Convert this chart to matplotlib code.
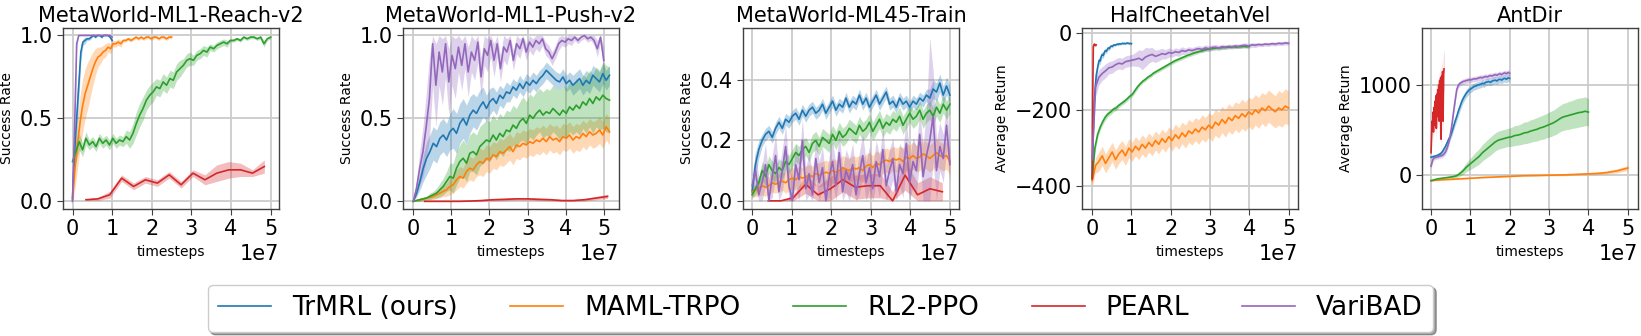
import numpy as np
import matplotlib
matplotlib.use("Agg")
import matplotlib.pyplot as plt

# ---------------------------------------------------------------- data
# x spans are (first, last) logged step in units of 1e7 timesteps; the
# curves are logged at even intervals inside that span.
METHODS = ["TrMRL (ours)", "MAML-TRPO", "RL2-PPO", "PEARL", "VariBAD"]
COLORS = ["#1f77b4", "#ff7f0e", "#2ca02c", "#d62728", "#9467bd"]

TITLES = ["MetaWorld-ML1-Reach-v2", "MetaWorld-ML1-Push-v2", "MetaWorld-ML45-Train",
          "HalfCheetahVel", "AntDir"]
YLABELS = ["Success Rate", "Success Rate", "Success Rate", "Average Return", "Average Return"]

# --- MetaWorld-ML1-Reach-v2
REACH_TRMRL_X = (0.0, 1.0)
REACH_TRMRL = [0.02, 0.3, 0.5, 0.7, 0.9, 0.96, 0.97, 0.98, 0.98, 0.99, 1.0, 0.99, 1.0, 1.0,
               0.99, 1.0, 1.0, 1.0, 0.99, 0.97]
REACH_TRMRL_SD = [0.01, 0.1, 0.12, 0.1, 0.05, 0.02, 0.02, 0.01, 0.01, 0.01, 0.0, 0.01, 0.0, 0.0,
                  0.01, 0.0, 0.0, 0.0, 0.01, 0.01]
REACH_MAML_X = (0.0, 2.5)
REACH_MAML = [0.01, 0.2, 0.35, 0.48, 0.58, 0.65, 0.7, 0.75, 0.8, 0.84, 0.87, 0.88, 0.9, 0.91,
              0.93, 0.92, 0.95, 0.95, 0.96, 0.95, 0.97, 0.97, 0.98, 0.97, 0.98, 0.99, 0.98, 0.99,
              0.98, 0.99, 0.99, 0.98, 0.99, 0.99, 0.98, 0.99, 0.99, 0.98, 0.99, 0.99]
REACH_MAML_SD = [0.02, 0.12, 0.15, 0.16, 0.16, 0.15, 0.14, 0.12, 0.1, 0.08, 0.06, 0.05, 0.04,
                 0.04, 0.03, 0.03, 0.02, 0.02, 0.02, 0.02, 0.01, 0.01, 0.01, 0.01, 0.01, 0.01,
                 0.01, 0.01, 0.01, 0.01, 0.01, 0.01, 0.01, 0.01, 0.01, 0.01, 0.01, 0.01, 0.01, 0.01]
REACH_RL2_X = (0.0, 5.0)
REACH_RL2 = [0.24, 0.30, 0.36, 0.31, 0.38, 0.34, 0.36, 0.33, 0.38, 0.35, 0.37, 0.34, 0.38, 0.35,
             0.37, 0.36, 0.39, 0.37, 0.41, 0.47, 0.52, 0.56, 0.61, 0.64, 0.66, 0.69, 0.68, 0.72,
             0.70, 0.74, 0.73, 0.78, 0.80, 0.82, 0.85, 0.86, 0.85, 0.88, 0.89, 0.91, 0.90, 0.93,
             0.92, 0.94, 0.95, 0.96, 0.95, 0.97, 0.97, 0.98, 0.97, 0.99, 0.98, 0.99, 0.99, 0.98,
             0.99, 0.95, 0.98, 0.99]
REACH_RL2_SD = [0.05, 0.06, 0.05, 0.04, 0.04, 0.03, 0.03, 0.03, 0.03, 0.03, 0.03, 0.03, 0.03,
                0.03, 0.03, 0.03, 0.04, 0.05, 0.06, 0.07, 0.07, 0.07, 0.06, 0.06, 0.06, 0.05,
                0.05, 0.05, 0.05, 0.05, 0.05, 0.05, 0.05, 0.04, 0.04, 0.04, 0.03, 0.03, 0.03,
                0.03, 0.03, 0.02, 0.02, 0.02, 0.02, 0.02, 0.02, 0.01, 0.01, 0.01, 0.01, 0.01,
                0.01, 0.01, 0.01, 0.01, 0.01, 0.02, 0.01, 0.01]
REACH_PEARL_X = (0.34, 4.84)
REACH_PEARL = [0.01, 0.015, 0.04, 0.14, 0.09, 0.13, 0.11, 0.16, 0.10, 0.17, 0.13, 0.17, 0.19,
               0.19, 0.17, 0.21]
REACH_PEARL_SD = [0.005, 0.01, 0.02, 0.02, 0.02, 0.02, 0.02, 0.02, 0.02, 0.02, 0.03, 0.05, 0.05,
                  0.04, 0.02, 0.04]
REACH_VARIBAD_X = (0.0, 1.0)
REACH_VARIBAD = [0.0, 0.45, 0.95, 1.0, 1.0, 1.0, 1.0, 1.0, 1.0, 1.0, 1.0, 1.0, 1.0, 1.0, 1.0,
                 1.0, 1.0, 1.0, 1.0, 0.99]
REACH_VARIBAD_SD = [0.0, 0.1, 0.03, 0.0, 0.0, 0.0, 0.0, 0.0, 0.0, 0.0, 0.0, 0.0, 0.0, 0.0, 0.0,
                    0.0, 0.0, 0.0, 0.0, 0.0]

# --- MetaWorld-ML1-Push-v2
PUSH_TRMRL_X = (0.0, 5.15)
PUSH_TRMRL = [0.0, 0.05, 0.12, 0.2, 0.26, 0.3, 0.35, 0.33, 0.38, 0.4, 0.37, 0.42, 0.44, 0.41,
              0.47, 0.5, 0.46, 0.52, 0.55, 0.53, 0.57, 0.6, 0.56, 0.6, 0.62, 0.59, 0.64, 0.62,
              0.66, 0.65, 0.69, 0.67, 0.71, 0.68, 0.72, 0.7, 0.73, 0.71, 0.74, 0.76, 0.79, 0.77,
              0.75, 0.73, 0.72, 0.75, 0.71, 0.73, 0.7, 0.72, 0.74, 0.7, 0.73, 0.71, 0.76, 0.74,
              0.72, 0.77, 0.73, 0.76]
PUSH_TRMRL_SD = [0.0, 0.02, 0.05, 0.08, 0.1, 0.1, 0.1, 0.1, 0.1, 0.1, 0.1, 0.11, 0.12, 0.12,
                 0.12, 0.12, 0.12, 0.11, 0.1, 0.1, 0.1, 0.09, 0.08, 0.08, 0.07, 0.07, 0.06, 0.06,
                 0.06, 0.05, 0.05, 0.05, 0.05, 0.05, 0.05, 0.05, 0.05, 0.05, 0.05, 0.05, 0.05,
                 0.05, 0.05, 0.05, 0.05, 0.05, 0.05, 0.05, 0.06, 0.06, 0.06, 0.06, 0.06, 0.06,
                 0.06, 0.06, 0.06, 0.06, 0.06, 0.06]
PUSH_MAML_X = (0.0, 5.15)
PUSH_MAML = [0.0, 0.005, 0.01, 0.015, 0.02, 0.025, 0.03, 0.04, 0.05, 0.06, 0.07, 0.09, 0.1, 0.13,
             0.15, 0.14, 0.18, 0.2, 0.19, 0.22, 0.24, 0.23, 0.26, 0.25, 0.28, 0.27, 0.3, 0.29,
             0.31, 0.33, 0.3, 0.34, 0.33, 0.35, 0.34, 0.36, 0.35, 0.37, 0.36, 0.38, 0.36, 0.39,
             0.37, 0.38, 0.36, 0.39, 0.38, 0.4, 0.37, 0.39, 0.38, 0.41, 0.39, 0.42, 0.4, 0.41,
             0.43, 0.4, 0.45, 0.42]
PUSH_MAML_SD = [0.0, 0.005, 0.01, 0.01, 0.01, 0.015, 0.02, 0.02, 0.03, 0.03, 0.04, 0.05, 0.05,
                0.06, 0.06, 0.06, 0.07, 0.07, 0.07, 0.07, 0.08, 0.08, 0.08, 0.08, 0.08, 0.08,
                0.08, 0.08, 0.08, 0.08, 0.08, 0.08, 0.08, 0.08, 0.08, 0.08, 0.08, 0.08, 0.08,
                0.08, 0.08, 0.08, 0.08, 0.08, 0.08, 0.08, 0.08, 0.08, 0.08, 0.08, 0.08, 0.08,
                0.08, 0.08, 0.08, 0.08, 0.08, 0.08, 0.08, 0.08]
PUSH_RL2_X = (0.0, 5.15)
PUSH_RL2 = [0.0, 0.005, 0.01, 0.015, 0.02, 0.03, 0.04, 0.05, 0.07, 0.09, 0.12, 0.15, 0.14, 0.2,
            0.24, 0.26, 0.23, 0.29, 0.3, 0.28, 0.33, 0.35, 0.37, 0.36, 0.4, 0.37, 0.41, 0.39,
            0.43, 0.42, 0.46, 0.44, 0.48, 0.5, 0.47, 0.52, 0.5, 0.53, 0.55, 0.52, 0.54, 0.53,
            0.56, 0.54, 0.52, 0.55, 0.53, 0.57, 0.55, 0.58, 0.56, 0.6, 0.58, 0.62, 0.59, 0.63,
            0.61, 0.64, 0.62, 0.61]
PUSH_RL2_SD = [0.0, 0.005, 0.01, 0.01, 0.01, 0.02, 0.02, 0.03, 0.04, 0.05, 0.06, 0.08, 0.09, 0.1,
               0.1, 0.11, 0.11, 0.11, 0.12, 0.12, 0.12, 0.12, 0.12, 0.12, 0.12, 0.12, 0.12,
               0.12, 0.12, 0.12, 0.12, 0.12, 0.12, 0.13, 0.13, 0.13, 0.13, 0.13, 0.13, 0.14,
               0.14, 0.14, 0.14, 0.14, 0.15, 0.15, 0.15, 0.15, 0.15, 0.16, 0.16, 0.16, 0.17,
               0.17, 0.18, 0.18, 0.18, 0.2, 0.2, 0.2]
PUSH_PEARL_X = (0.3, 5.1)
PUSH_PEARL = [0.0, 0.0, 0.0, 0.0, 0.002, 0.005, 0.01, 0.012, 0.015, 0.015, 0.012, 0.01, 0.005,
              0.005, 0.01, 0.02, 0.03]
PUSH_PEARL_SD = [0.002, 0.003, 0.004, 0.004, 0.005, 0.006, 0.007, 0.008, 0.008, 0.008, 0.008,
                 0.007, 0.006, 0.006, 0.008, 0.01, 0.012]
PUSH_VARIBAD_X = (0.0, 5.0)
PUSH_VARIBAD = [0.0, 0.08, 0.2, 0.3, 0.45, 0.62, 0.95, 0.7, 0.9, 0.78, 0.95, 0.72, 0.88, 0.8,
                0.93, 0.82, 0.95, 0.78, 0.9, 0.85, 0.96, 0.75, 0.92, 0.88, 0.97, 0.85, 0.95,
                0.8, 0.93, 0.9, 0.97, 0.85, 0.95, 0.92, 0.98, 0.9, 0.96, 0.93, 0.97, 0.95, 0.98,
                0.92, 0.9, 0.86, 0.9, 0.95, 0.97, 0.96, 0.98, 0.97, 0.99, 0.97, 0.99, 1.0, 0.98,
                0.99, 0.97, 0.92, 0.99, 0.85]
PUSH_VARIBAD_SD = [0.0, 0.05, 0.1, 0.15, 0.2, 0.25, 0.25, 0.25, 0.2, 0.2, 0.2, 0.2, 0.18, 0.18,
                   0.15, 0.15, 0.15, 0.15, 0.12, 0.12, 0.12, 0.12, 0.1, 0.1, 0.1, 0.1, 0.08,
                   0.08, 0.08, 0.08, 0.06, 0.06, 0.06, 0.06, 0.05, 0.05, 0.05, 0.05, 0.05, 0.05,
                   0.04, 0.04, 0.04, 0.04, 0.04, 0.04, 0.03, 0.03, 0.03, 0.03, 0.02, 0.02, 0.02,
                   0.02, 0.02, 0.02, 0.03, 0.05, 0.03, 0.08]

# --- MetaWorld-ML45-Train
ML45_TRMRL_X = (0.0, 5.0)
ML45_TRMRL = [0.03, 0.12, 0.17, 0.2, 0.22, 0.23, 0.21, 0.24, 0.26, 0.24, 0.27, 0.26, 0.28, 0.29,
              0.27, 0.3, 0.28, 0.3, 0.31, 0.29, 0.3, 0.32, 0.29, 0.31, 0.33, 0.3, 0.32, 0.31,
              0.34, 0.31, 0.33, 0.32, 0.35, 0.32, 0.34, 0.31, 0.33, 0.35, 0.32, 0.34, 0.36, 0.32,
              0.33, 0.31, 0.34, 0.32, 0.33, 0.31, 0.33, 0.32, 0.34, 0.33, 0.35, 0.34, 0.37, 0.36,
              0.39, 0.35, 0.38, 0.35]
ML45_TRMRL_SD = [0.02, 0.04, 0.03, 0.02, 0.02, 0.02, 0.02, 0.02, 0.02, 0.02, 0.02, 0.02, 0.02,
                 0.02, 0.02, 0.02, 0.02, 0.02, 0.02, 0.02, 0.02, 0.02, 0.02, 0.02, 0.02, 0.02,
                 0.02, 0.02, 0.02, 0.02, 0.02, 0.02, 0.02, 0.02, 0.02, 0.02, 0.02, 0.02, 0.02,
                 0.02, 0.02, 0.02, 0.02, 0.02, 0.02, 0.02, 0.02, 0.02, 0.02, 0.02, 0.02, 0.02,
                 0.02, 0.03, 0.03, 0.03, 0.03, 0.03, 0.03, 0.03]
ML45_MAML_X = (0.0, 5.0)
ML45_MAML = [0.03, 0.035, 0.04, 0.05, 0.045, 0.05, 0.06, 0.055, 0.06, 0.065, 0.06, 0.07, 0.075,
             0.07, 0.08, 0.075, 0.08, 0.085, 0.08, 0.09, 0.085, 0.09, 0.095, 0.09, 0.1, 0.095,
             0.1, 0.11, 0.105, 0.1, 0.11, 0.105, 0.11, 0.1, 0.115, 0.12, 0.11, 0.125, 0.12, 0.13,
             0.135, 0.13, 0.14, 0.135, 0.14, 0.13, 0.145, 0.14, 0.15, 0.14, 0.145, 0.155, 0.15,
             0.14, 0.15, 0.16, 0.15, 0.145, 0.15, 0.13]
ML45_MAML_SD = [0.02, 0.02, 0.025, 0.03, 0.03, 0.03, 0.03, 0.03, 0.03, 0.03, 0.035, 0.035, 0.035,
                0.035, 0.035, 0.035, 0.035, 0.035, 0.035, 0.035, 0.04, 0.04, 0.04, 0.04, 0.04,
                0.04, 0.04, 0.04, 0.04, 0.04, 0.04, 0.04, 0.04, 0.04, 0.04, 0.04, 0.04, 0.04,
                0.04, 0.04, 0.04, 0.04, 0.04, 0.04, 0.04, 0.045, 0.045, 0.045, 0.045, 0.045,
                0.045, 0.045, 0.045, 0.045, 0.045, 0.045, 0.045, 0.045, 0.045, 0.045]
ML45_RL2_X = (0.0, 5.0)
ML45_RL2 = [0.02, 0.04, 0.06, 0.1, 0.08, 0.12, 0.1, 0.09, 0.11, 0.1, 0.13, 0.12, 0.14, 0.16,
            0.15, 0.17, 0.18, 0.16, 0.19, 0.2, 0.18, 0.21, 0.2, 0.19, 0.22, 0.2, 0.23, 0.21, 0.22,
            0.24, 0.23, 0.22, 0.25, 0.23, 0.24, 0.26, 0.23, 0.25, 0.27, 0.24, 0.26, 0.25, 0.27,
            0.26, 0.28, 0.25, 0.27, 0.29, 0.27, 0.28, 0.3, 0.27, 0.29, 0.3, 0.28, 0.31, 0.29,
            0.32, 0.3, 0.32]
ML45_RL2_SD = [0.01, 0.02, 0.02, 0.03, 0.03, 0.03, 0.03, 0.03, 0.03, 0.03, 0.03, 0.03, 0.03,
               0.03, 0.03, 0.03, 0.03, 0.03, 0.03, 0.03, 0.03, 0.03, 0.03, 0.03, 0.03, 0.03,
               0.03, 0.03, 0.03, 0.03, 0.03, 0.03, 0.03, 0.03, 0.03, 0.03, 0.03, 0.03, 0.03,
               0.03, 0.03, 0.03, 0.03, 0.03, 0.03, 0.03, 0.03, 0.03, 0.03, 0.03, 0.03, 0.03,
               0.03, 0.03, 0.03, 0.03, 0.03, 0.03, 0.03, 0.03]
ML45_PEARL_X = (0.41, 4.81)
ML45_PEARL = [0.0, 0.0, 0.01, 0.055, 0.02, 0.04, 0.07, 0.045, 0.05, 0.05, 0.0, 0.085, 0.02,
              0.04, 0.03]
ML45_PEARL_SD = [0.0, 0.0, 0.01, 0.03, 0.03, 0.04, 0.04, 0.04, 0.04, 0.04, 0.03, 0.05, 0.04,
                 0.04, 0.03]
ML45_VARIBAD_X = (0.0, 5.0)
ML45_VARIBAD = [0.05, 0.1, 0.02, 0.06, 0.12, 0.0, 0.08, 0.15, 0.03, 0.1, 0.18, 0.05, 0.0, 0.12,
                0.07, 0.2, 0.04, 0.09, 0.02, 0.14, 0.06, 0.11, 0.0, 0.08, 0.13, 0.05, 0.16, 0.03,
                0.1, 0.07, 0.12, 0.02, 0.09, 0.15, 0.06, 0.11, 0.04, 0.13, 0.08, 0.17, 0.05, 0.1,
                0.14, 0.03, 0.12, 0.09, 0.19, 0.06, 0.13, 0.1, 0.22, 0.08, 0.15, 0.2, 0.28, 0.1,
                0.18, 0.14, 0.25, 0.12]
ML45_VARIBAD_SD = [0.04, 0.06, 0.06, 0.06, 0.07, 0.07, 0.07, 0.07, 0.07, 0.07, 0.07, 0.07, 0.07,
                   0.07, 0.07, 0.07, 0.07, 0.07, 0.07, 0.07, 0.07, 0.07, 0.07, 0.07, 0.07, 0.07,
                   0.07, 0.07, 0.07, 0.07, 0.07, 0.07, 0.07, 0.07, 0.07, 0.07, 0.07, 0.07, 0.07,
                   0.07, 0.07, 0.07, 0.07, 0.07, 0.07, 0.08, 0.08, 0.08, 0.08, 0.08, 0.08, 0.1,
                   0.15, 0.34, 0.15, 0.1, 0.08, 0.08, 0.08, 0.06]

# --- HalfCheetahVel
HC_TRMRL_X = (0.0, 1.0)
HC_TRMRL = [-380, -260, -180, -140, -110, -95, -80, -70, -72, -60, -55, -58, -50, -45, -47, -42,
            -38, -40, -35, -33, -34, -31, -30, -31, -29, -28, -29, -27, -28, -27, -26, -27, -26,
            -27, -26, -25, -26, -27, -26, -27]
HC_TRMRL_SD = [20, 25, 25, 20, 15, 12, 10, 10, 10, 8, 8, 8, 6, 6, 6, 5, 5, 5, 4, 4, 4, 4, 3, 3,
               3, 3, 3, 3, 3, 3, 3, 3, 3, 3, 3, 3, 3, 3, 3, 3]
HC_MAML_X = (0.0, 5.0)
HC_MAML = [-385, -345, -335, -320, -340, -325, -310, -330, -315, -305, -320, -300, -310, -295,
           -305, -290, -300, -285, -295, -280, -290, -275, -285, -270, -280, -265, -275, -260,
           -270, -255, -262, -250, -258, -245, -252, -240, -248, -232, -240, -225, -235, -220,
           -228, -215, -222, -210, -218, -205, -212, -200, -208, -195, -202, -190, -198, -205,
           -195, -200, -190, -195]
HC_MAML_SD = [15, 20, 25, 25, 25, 25, 25, 25, 25, 25, 25, 25, 25, 25, 25, 25, 25, 25, 25, 25,
              25, 25, 25, 25, 28, 28, 28, 28, 30, 30, 30, 30, 32, 32, 32, 32, 34, 34, 34, 34, 36,
              36, 36, 36, 38, 38, 38, 38, 40, 40, 40, 40, 42, 42, 42, 42, 45, 45, 45, 45]
HC_RL2_X = (0.0, 4.0)
HC_RL2 = [-380, -300, -265, -245, -230, -218, -210, -205, -198, -195, -188, -183, -178, -172,
          -165, -160, -150, -140, -132, -125, -120, -114, -110, -104, -100, -96, -92, -88, -84,
          -80, -76, -72, -69, -66, -63, -60, -57, -55, -52, -50, -48, -46, -44, -42, -41, -40,
          -39, -38, -38, -37, -37, -36, -36, -35, -36, -35, -35, -34, -35, -34]
HC_RL2_SD = [10, 12, 10, 8, 8, 8, 7, 7, 7, 7, 6, 6, 6, 6, 6, 6, 6, 6, 5, 5, 5, 5, 5, 5, 5, 5, 5,
             5, 5, 5, 5, 5, 5, 5, 5, 5, 5, 5, 5, 5, 4, 4, 4, 4, 4, 4, 4, 4, 4, 4, 4, 4, 4, 4, 4,
             4, 4, 4, 4, 4]
HC_PEARL_X = (0.0, 0.1)
HC_PEARL = [-380, -150, -35, -30, -28, -30, -32, -30]
HC_PEARL_SD = [5, 10, 5, 3, 3, 3, 3, 3]
HC_VARIBAD_X = (0.0, 5.0)
HC_VARIBAD = [-330, -140, -115, -105, -98, -90, -88, -82, -78, -80, -74, -72, -70, -68, -65, -70,
              -62, -58, -55, -60, -57, -53, -55, -50, -52, -48, -50, -45, -47, -43, -45, -42, -40,
              -42, -38, -40, -37, -36, -38, -35, -36, -34, -35, -33, -34, -32, -31, -33, -30,
              -31, -29, -30, -28, -29, -27, -28, -26, -27, -25, -26]
HC_VARIBAD_SD = [20, 25, 20, 18, 18, 16, 16, 15, 15, 15, 15, 15, 15, 18, 22, 25, 25, 20, 18, 16,
                 15, 14, 12, 12, 10, 10, 10, 10, 8, 8, 8, 8, 8, 8, 8, 8, 7, 7, 7, 7, 6, 6, 6, 6,
                 6, 6, 6, 6, 6, 6, 5, 5, 5, 5, 5, 5, 5, 5, 5, 5]

# --- AntDir
ANT_TRMRL_X = (0.0, 2.0)
ANT_TRMRL = [200, 205, 210, 215, 220, 230, 240, 260, 290, 320, 360, 400, 430, 480, 540, 600, 650,
             710, 760, 810, 850, 880, 910, 930, 950, 960, 975, 985, 990, 1000, 1005, 1010, 1020,
             1015, 1030, 1035, 1040, 1030, 1045, 1050, 1055, 1045, 1060, 1065, 1055, 1070, 1075,
             1065, 1080, 1075]
ANT_TRMRL_SD = [20, 20, 20, 20, 25, 25, 25, 30, 30, 35, 35, 40, 40, 45, 45, 50, 50, 50, 50, 50,
                45, 45, 45, 45, 40, 40, 40, 40, 40, 40, 40, 40, 40, 40, 40, 40, 40, 40, 40, 40,
                40, 40, 40, 40, 40, 40, 40, 40, 40, 40]
ANT_MAML_X = (0.0, 5.0)
ANT_MAML = [-60, -50, -45, -38, -32, -25, -20, -15, -10, -5, -3, 0, 2, 5, 10, 15, 20, 30, 50, 80]
ANT_MAML_SD = [5, 5, 5, 5, 5, 6, 6, 6, 7, 7, 8, 8, 9, 10, 10, 12, 14, 18, 22, 28]
ANT_RL2_X = (0.0, 4.0)
ANT_RL2 = [-60, -50, -40, -35, -30, -25, -20, -15, -5, 20, 50, 90, 120, 150, 180, 210, 250, 280,
           310, 340, 370, 390, 400, 410, 420, 425, 440, 445, 455, 470, 475, 490, 500, 510, 525,
           535, 550, 565, 580, 600, 625, 645, 655, 665, 675, 685, 695, 700, 710, 700]
ANT_RL2_SD = [5, 5, 6, 8, 10, 12, 15, 20, 25, 30, 40, 50, 60, 70, 80, 85, 90, 95, 100, 100, 100,
              100, 100, 100, 100, 105, 110, 110, 115, 120, 120, 125, 125, 130, 130, 135, 135,
              140, 140, 145, 145, 150, 150, 155, 155, 160, 160, 160, 160, 150]
ANT_PEARL_X = (0.0, 0.33)
ANT_PEARL = [250, 420, 600, 520, 700, 480, 750, 560, 820, 600, 880, 520, 900, 650, 950, 700,
             1000, 600, 1050, 750, 1080, 400, 1100, 800, 1150, 600, 1120, 1180]
ANT_PEARL_SD = [50, 80, 100, 100, 120, 120, 120, 120, 130, 130, 140, 140, 150, 150, 160, 160, 170,
                170, 180, 180, 190, 190, 200, 200, 210, 210, 220, 220]
ANT_VARIBAD_X = (0.0, 2.0)
ANT_VARIBAD = [100, 170, 195, 200, 205, 210, 215, 220, 235, 260, 300, 360, 450, 560, 700, 830,
               950, 1000, 1020, 1030, 1040, 1045, 1050, 1055, 1060, 1058, 1065, 1070, 1068, 1075,
               1080, 1085, 1080, 1090, 1095, 1090, 1100, 1105, 1100, 1110, 1115, 1108, 1120,
               1125, 1115, 1130, 1135, 1125, 1140, 1130]
ANT_VARIBAD_SD = [30, 30, 25, 25, 25, 25, 25, 25, 25, 30, 30, 35, 40, 40, 40, 40, 35, 30, 30,
                  30, 30, 30, 30, 30, 30, 30, 30, 30, 30, 30, 30, 30, 30, 30, 30, 30, 30, 30, 30,
                  30, 30, 30, 30, 30, 30, 30, 30, 30, 30, 30]

PANELS = [
    [(REACH_TRMRL_X, REACH_TRMRL, REACH_TRMRL_SD), (REACH_MAML_X, REACH_MAML, REACH_MAML_SD),
     (REACH_RL2_X, REACH_RL2, REACH_RL2_SD), (REACH_PEARL_X, REACH_PEARL, REACH_PEARL_SD),
     (REACH_VARIBAD_X, REACH_VARIBAD, REACH_VARIBAD_SD)],
    [(PUSH_TRMRL_X, PUSH_TRMRL, PUSH_TRMRL_SD), (PUSH_MAML_X, PUSH_MAML, PUSH_MAML_SD),
     (PUSH_RL2_X, PUSH_RL2, PUSH_RL2_SD), (PUSH_PEARL_X, PUSH_PEARL, PUSH_PEARL_SD),
     (PUSH_VARIBAD_X, PUSH_VARIBAD, PUSH_VARIBAD_SD)],
    [(ML45_TRMRL_X, ML45_TRMRL, ML45_TRMRL_SD), (ML45_MAML_X, ML45_MAML, ML45_MAML_SD),
     (ML45_RL2_X, ML45_RL2, ML45_RL2_SD), (ML45_PEARL_X, ML45_PEARL, ML45_PEARL_SD),
     (ML45_VARIBAD_X, ML45_VARIBAD, ML45_VARIBAD_SD)],
    [(HC_TRMRL_X, HC_TRMRL, HC_TRMRL_SD), (HC_MAML_X, HC_MAML, HC_MAML_SD),
     (HC_RL2_X, HC_RL2, HC_RL2_SD), (HC_PEARL_X, HC_PEARL, HC_PEARL_SD),
     (HC_VARIBAD_X, HC_VARIBAD, HC_VARIBAD_SD)],
    [(ANT_TRMRL_X, ANT_TRMRL, ANT_TRMRL_SD), (ANT_MAML_X, ANT_MAML, ANT_MAML_SD),
     (ANT_RL2_X, ANT_RL2, ANT_RL2_SD), (ANT_PEARL_X, ANT_PEARL, ANT_PEARL_SD),
     (ANT_VARIBAD_X, ANT_VARIBAD, ANT_VARIBAD_SD)],
]

# ---------------------------------------------------------------- layout
XLIMS = [(-0.24, 5.21), (-0.27, 5.4), (-0.23, 5.23), (-0.26, 5.24), (-0.23, 5.26)]
YLIMS = [(-0.046, 1.045), (-0.046, 1.045), (-0.027, 0.572), (-459, 14), (-374, 1633)]
YTICKS = [[0.0, 0.5, 1.0], [0.0, 0.5, 1.0], [0.0, 0.2, 0.4], [-400, -200, 0], [0, 1000]]
LEFTS = [63, 403, 743, 1082, 1422]

W, H = 1641, 336
fig = plt.figure(figsize=(W / 100, H / 100), dpi=100)

handles = []
for k in range(5):
    ax = fig.add_axes([LEFTS[k] / W, 1 - 209 / H, 216 / W, 181 / H])
    bounded = k < 3
    for j, (span, y, sd) in enumerate(PANELS[k]):
        y = np.asarray(y, float)
        sd = np.asarray(sd, float)
        x = np.linspace(span[0], span[1], len(y)) * 1e7
        lo, hi = y - sd, y + sd
        if bounded:
            lo, hi = np.clip(lo, 0, None), np.clip(hi, None, 1.0)
        ax.fill_between(x, lo, hi, color=COLORS[j], alpha=0.3, lw=0)
        ln, = ax.plot(x, y, color=COLORS[j], lw=1.2, label=METHODS[j])
        if k == 0:
            handles.append(ln)
    ax.set_xlim(XLIMS[k][0] * 1e7, XLIMS[k][1] * 1e7)
    ax.set_ylim(*YLIMS[k])
    ax.set_xticks(np.arange(0, 6) * 1e7)
    ax.set_yticks(YTICKS[k])
    ax.grid(True, color="#cccccc", lw=1.3)
    ax.set_axisbelow(True)
    for s in ax.spines.values():
        s.set_color("#404040")
        s.set_linewidth(1.0)
    ax.tick_params(labelsize=15, color="#404040", length=4)
    ax.xaxis.get_offset_text().set_fontsize(15)
    ax.set_title(TITLES[k], fontsize=15, pad=4)
    ax.set_ylabel(YLABELS[k], fontsize=10)
    ax.set_xlabel("timesteps", fontsize=10)

leg = fig.legend(handles, METHODS, loc="lower center", bbox_to_anchor=(0.5, 0.012),
                 ncol=5, fontsize=19, fancybox=True, shadow=True, borderaxespad=0)
for h in leg.get_lines():
    h.set_linewidth(1.2)

fig.savefig("out.png", dpi=100)
